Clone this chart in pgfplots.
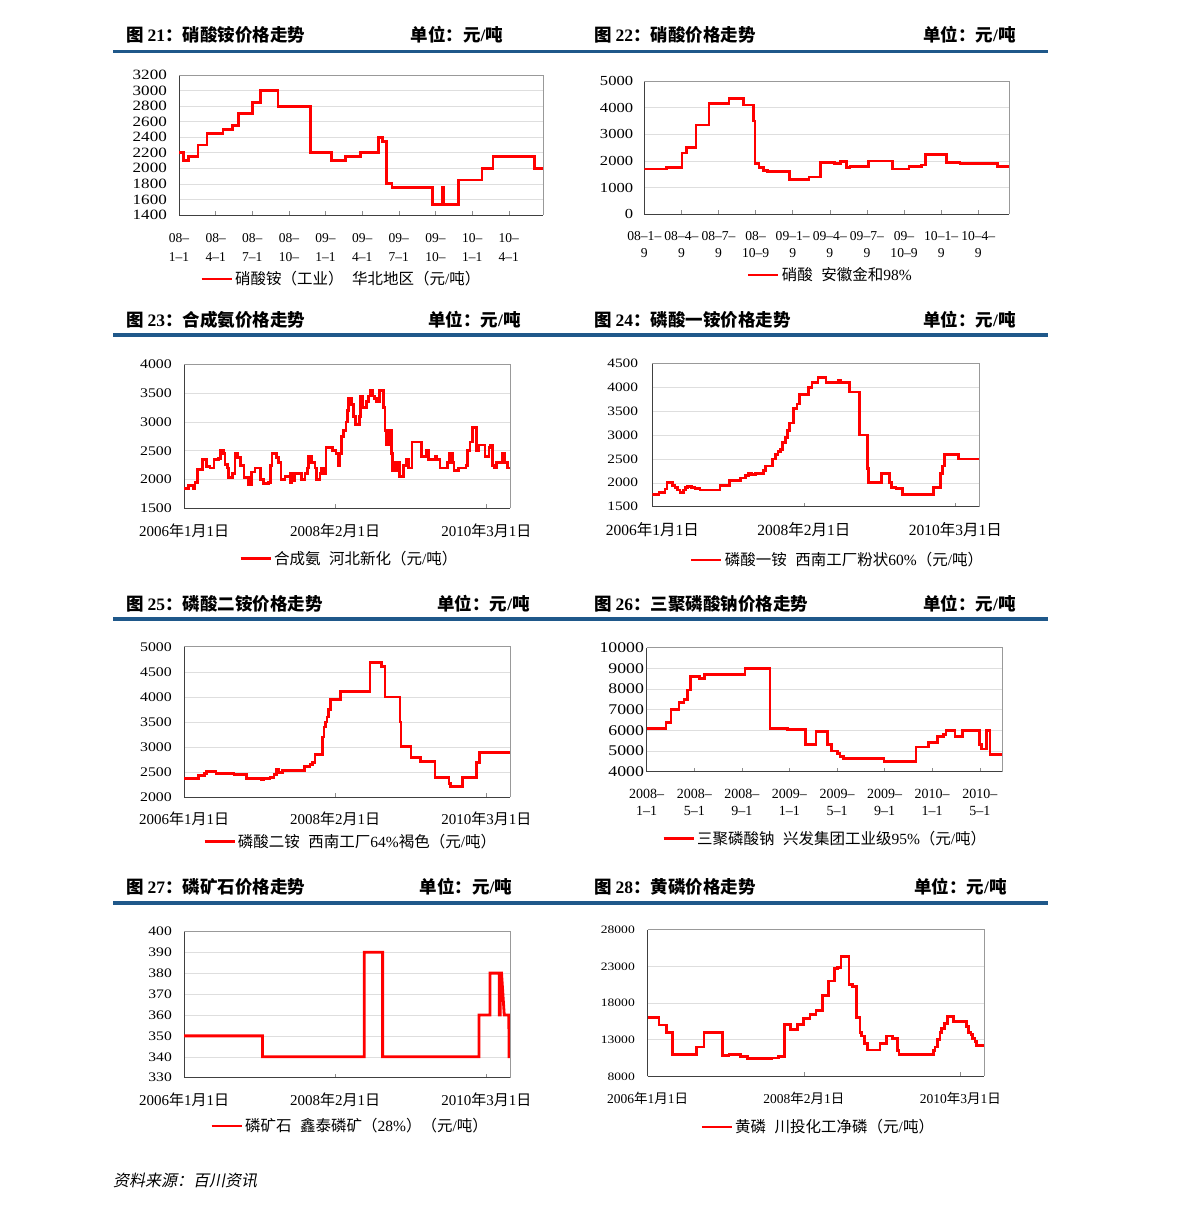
\documentclass[border=0pt]{standalone}
\usepackage{fontspec}
\setmainfont{Liberation Serif}
\newfontfamily\cjk{Noto Sans CJK SC}
\newfontfamily\cjkit[FakeSlant=0.2]{Noto Sans CJK SC}
\newfontfamily\tnum[FakeStretch=1.2]{Liberation Serif}
\usepackage{pgfplots}
\pgfplotsset{compat=1.18}
\definecolor{rulecol}{RGB}{31,88,138}
\definecolor{linered}{RGB}{255,0,0}
\newcommand\zh[1]{{\cjk #1}}
\newcommand\wsp{\hspace{0.55em}}
\newcommand\legfont{\fontsize{15.5}{18}\selectfont}
\newcommand\ttl[4]{\node[anchor=base west,inner sep=0pt] at (#1pt,-#2pt) {\fontsize{17.5}{20}\selectfont\bfseries\zh{图 }#3\zh{：#4}};}
\newcommand\unit[2]{\node[anchor=base east,inner sep=0pt] at (#1pt,-#2pt) {\fontsize{17.5}{20}\selectfont\bfseries\zh{单位：元}/\zh{吨}};}
\newcommand\dlab[3]{#1\zh{年}#2\zh{月}#3\zh{日}}

\pgfplotsset{
  chart/.style={
    scale only axis, anchor=south west,
    axis x line*=bottom, axis y line*=left,
    axis line style={-, black!75, line width=0.8pt},
    ymajorgrids, grid style={black!13, line width=0.6pt},
    tick align=inside, major tick length=4pt,
    xtick style={black!45, line width=0.6pt},
    ytick style={draw=none},
    yticklabel style={anchor=east, inner sep=0pt},
    xticklabel style={anchor=base, inner sep=0pt, align=center},
    /pgf/number format/assume math mode=true,
    /pgf/number format/1000 sep={},
    scaled ticks=false,
    extra description/.code={\draw[black!40, line width=0.8pt] (rel axis cs:0,1) -- (rel axis cs:1,1) -- (rel axis cs:1,0);},
    legend image code/.code={\draw[linered, line width=2.8pt] (0pt,0pt) -- (30pt,0pt);},
    legend style={draw=none, fill=none, inner sep=0pt, anchor=west, font=\legfont},
    legend cell align=left,
  },
  yfs/.style={yticklabel style={font=\tnum\fontsize{#1}{#1}\selectfont}},
  xfs/.style 2 args={xticklabel style={font=\fontsize{#1}{#2}\selectfont}},
  dline/.style={linered, line width=2.8pt, const plot},
  datex/.style={xmin=0, xmax=53.9, xtick={0,25,50},
    xticklabels={\dlab{2006}{1}{1},\dlab{2008}{2}{1},\dlab{2010}{3}{1}}},
}

\begin{document}
\begin{tikzpicture}
\path[use as bounding box] (0,0) rectangle (1191pt,-1209pt);

% ---------- header rules and titles
\foreach \yy in {51.5,335,619,903}{\draw[rulecol, line width=3.2pt] (113pt,-\yy pt) -- (1048pt,-\yy pt);}
\ttl{126}{41.5}{21}{硝酸铵价格走势}\unit{503.3}{41.5}
\ttl{594}{41.5}{22}{硝酸价格走势}\unit{1015.7}{41.5}
\ttl{126}{326}{23}{合成氨价格走势}\unit{520.7}{326}
\ttl{594}{326}{24}{磷酸一铵价格走势}\unit{1015.7}{326}
\ttl{126}{610.5}{25}{磷酸二铵价格走势}\unit{530}{610.5}
\ttl{594}{610.5}{26}{三聚磷酸钠价格走势}\unit{1015.7}{610.5}
\ttl{126}{893}{27}{磷矿石价格走势}\unit{512.3}{893}
\ttl{594}{893}{28}{黄磷价格走势}\unit{1006.7}{893}

% ---------- 21
\begin{axis}[chart, at={(179pt,-215pt)}, width=364pt, height=140pt,
  xmin=0, xmax=29.8, ymin=1400, ymax=3200, ytick={1400,1600,...,3200},
  xtick={0,3,...,27},
  xticklabels={{08–\\1–1},{08–\\4–1},{08–\\7–1},{08–\\10–},{09–\\1–1},{09–\\4–1},{09–\\7–1},{09–\\10–},{10–\\1–1},{10–\\4–1}},
  yfs=14.2, xfs={13.5}{19}, xticklabel style={yshift=-46.5pt},
  yticklabel style={xshift=-12pt},
  legend style={at={(0.0577,-0.457)}}]
\addplot[dline] coordinates {(0,2200)(0.4,2100)(0.8,2150)(1.55,2300)(2.3,2450)(3.6,2500)(4.4,2550)(4.9,2700)(6.0,2850)(6.7,3000)(8.1,2800)(10.74,2200)(12.46,2100)(13.64,2150)(14.83,2200)(16.36,2400)(16.64,2350)(16.96,1800)(17.43,1750)(20.78,1540)(21.6,1750)(21.7,1540)(22.9,1850)(24.8,2000)(25.7,2150)(29.1,2000)(29.8,2000)};
\addlegendentry{\zh{硝酸铵（工业）}\wsp\zh{华北地区（元}/\zh{吨）}}
\end{axis}

% ---------- 22
\begin{axis}[chart, at={(644.3pt,-214.3pt)}, width=365pt, height=133.3pt,
  xmin=0, xmax=29.51, ymin=0, ymax=5000, ytick={0,1000,...,5000},
  xtick={0,3,...,27},
  xticklabels={{08–1–\\9},{08–4–\\9},{08–7–\\9},{08–\\10–9},{09–1–\\9},{09–4–\\9},{09–7–\\9},{09–\\10–9},{10–1–\\9},{10–4–\\9}},
  yfs=13.8, xfs={13.6}{17.3}, xticklabel style={yshift=-43.5pt},
  yticklabel style={xshift=-11pt},
  legend style={at={(0.281,-0.455)}}]
\addplot[dline] coordinates {(0,1700)(1.8,1750)(3.05,2300)(3.42,2500)(4.18,3350)(5.23,4150)(6.85,4350)(8.0,4100)(8.81,3500)(8.95,1900)(9.27,1750)(9.62,1650)(9.97,1600)(11.73,1300)(13.32,1400)(14.26,1950)(15.36,1900)(15.88,1980)(16.33,1750)(16.63,1800)(18.11,2000)(20.05,1700)(21.4,1800)(22.43,1850)(22.75,2250)(24.45,1950)(25.53,1900)(28.54,1800)(29.51,1800)};
\addlegendentry{\zh{硝酸}\wsp\zh{安徽金和}98\%}
\end{axis}

% ---------- 23
\begin{axis}[chart, datex, at={(184pt,-508.3pt)}, width=326pt, height=144pt,
  ymin=1500, ymax=4000, ytick={1500,2000,...,4000},
  yfs=13.2, xfs={15}{18}, xticklabel style={yshift=-28.5pt},
  yticklabel style={xshift=-12pt},
  legend style={at={(0.169,-0.347)}}]
\addplot[dline] coordinates {(0,1840)(0.72,1900)(1.54,1850)(1.82,1950)(2.20,2180)(3.09,2350)(3.75,2220)(4.30,2200)(4.96,2350)(5.67,2370)(6.06,2500)(6.50,2450)(6.78,2260)(7.16,2200)(7.33,2040)(8.04,2100)(8.43,2450)(8.82,2380)(9.37,2240)(9.92,2040)(10.63,1920)(11.18,2130)(11.74,2200)(12.67,2000)(13.11,1930)(13.94,1950)(14.33,2250)(14.55,2450)(15.32,2380)(15.59,2300)(16.03,2000)(16.69,2050)(17.52,2100)(17.63,1950)(17.80,2100)(18.07,1980)(18.35,2100)(19.45,2000)(20.0,2100)(20.39,2200)(20.55,2400)(21.10,2300)(21.65,2200)(21.93,2000)(22.48,2100)(22.76,2200)(23.03,2100)(23.47,2550)(24.57,2500)(25.12,2450)(25.51,2250)(25.79,2450)(26.06,2750)(26.34,2850)(26.78,3000)(27.0,3200)(27.22,3400)(27.66,3300)(27.99,3100)(28.32,2950)(28.98,3100)(29.2,3450)(29.53,3250)(30.19,3350)(30.52,3450)(30.85,3550)(31.18,3450)(31.52,3400)(31.85,3350)(32.29,3550)(32.95,3250)(33.22,2850)(33.5,2600)(33.72,2850)(33.94,2600)(34.16,2850)(34.33,2450)(34.49,2150)(34.71,2300)(34.93,2150)(35.15,2300)(35.59,2050)(36.25,2250)(36.69,2350)(37.08,2200)(37.69,2650)(39.28,2400)(40.0,2500)(40.39,2350)(41.49,2400)(41.76,2350)(42.31,2200)(43.53,2300)(43.86,2450)(44.41,2300)(44.63,2150)(45.34,2200)(46.61,2250)(46.83,2500)(47.27,2650)(47.71,2900)(48.37,2500)(48.65,2600)(49.75,2400)(50.41,2550)(50.74,2600)(51.02,2250)(51.29,2200)(51.68,2300)(52.62,2450)(53.06,2300)(53.50,2200)(53.9,2200)};
\addlegendentry{\zh{合成氨}\wsp\zh{河北新化（元}/\zh{吨）}}
\end{axis}

% ---------- 24
\begin{axis}[chart, datex, at={(652.3pt,-506.7pt)}, width=326.7pt, height=143.4pt,
  ymin=1500, ymax=4500, ytick={1500,2000,...,4500},
  yfs=12.8, xfs={15.5}{18}, xticklabel style={yshift=-28.3pt},
  yticklabel style={xshift=-14pt},
  legend style={at={(0.115,-0.372)}}]
\addplot[dline] coordinates {(0,1750)(1.10,1800)(2.09,1870)(2.42,2000)(3.31,1950)(3.75,1900)(4.19,1850)(4.57,1800)(5.18,1850)(5.51,1900)(5.84,1930)(6.50,1900)(7.05,1880)(7.88,1850)(11.18,1950)(12.67,2050)(14.49,2100)(15.32,2150)(15.87,2200)(16.42,2180)(16.97,2200)(18.35,2250)(18.73,2350)(19.83,2500)(20.28,2600)(20.72,2650)(21.10,2700)(21.54,2850)(21.93,2950)(22.26,3100)(22.64,3250)(23.31,3550)(23.86,3650)(24.24,3850)(25.79,4000)(26.34,4100)(27.33,4200)(28.65,4100)(30.63,4150)(31.02,4100)(32.56,3900)(34.16,3000)(35.54,2300)(35.70,2000)(37.80,2200)(39.12,2000)(39.45,1900)(40.22,1880)(41.32,1750)(46.34,1900)(47.55,2200)(47.93,2350)(48.26,2600)(50.47,2500)(53.9,2500)};
\addlegendentry{\zh{磷酸一铵}\wsp\zh{西南工厂粉状}60\%\zh{（元}/\zh{吨）}}
\end{axis}

% ---------- 25
\begin{axis}[chart, datex, at={(184pt,-797.3pt)}, width=326pt, height=150.6pt,
  ymin=2000, ymax=5000, ytick={2000,2500,...,5000},
  yfs=13.2, xfs={15}{18}, xticklabel style={yshift=-27pt},
  yticklabel style={xshift=-12pt},
  legend style={at={(0.058,-0.295)}}]
\addplot[dline] coordinates {(0,2380)(2.37,2430)(3.36,2470)(3.75,2520)(5.29,2480)(8.26,2460)(10.36,2380)(12.84,2350)(13.22,2380)(14.21,2400)(14.88,2450)(15.32,2550)(15.59,2500)(16.31,2540)(19.89,2620)(20.83,2650)(21.27,2700)(21.65,2850)(22.87,3200)(23.14,3400)(23.42,3500)(23.64,3600)(23.91,3750)(24.19,3950)(25.90,4100)(30.74,4680)(32.67,4600)(33.22,4000)(35.70,3500)(35.87,3020)(37.52,2800)(39.12,2720)(41.49,2400)(43.80,2270)(44.08,2220)(46.06,2400)(48.37,2700)(48.82,2900)(53.9,2900)};
\addlegendentry{\zh{磷酸二铵}\wsp\zh{西南工厂}64\%\zh{褐色（元}/\zh{吨）}}
\end{axis}

% ---------- 26
\begin{axis}[chart, at={(646.7pt,-771.7pt)}, width=355.6pt, height=124pt,
  xmin=0, xmax=29.89, ymin=4000, ymax=10000, ytick={4000,5000,...,10000},
  xtick={0,4,...,28},
  xticklabels={{2008–\\1–1},{2008–\\5–1},{2008–\\9–1},{2009–\\1–1},{2009–\\5–1},{2009–\\9–1},{2010–\\1–1},{2010–\\5–1}},
  yfs=14.8, xfs={14}{17.5}, xticklabel style={yshift=-44pt},
  yticklabel style={xshift=-2.5pt},
  legend style={at={(0.043,-0.537)}}]
\addplot[dline] coordinates {(0,6100)(1.62,6400)(2.04,7000)(2.72,7350)(3.14,7500)(3.42,7950)(3.67,8600)(4.43,8500)(4.85,8700)(8.26,9000)(10.36,6100)(11.82,6050)(13.36,5300)(14.23,5950)(15.18,5300)(15.55,5000)(16.02,4900)(16.25,4750)(16.53,4650)(19.94,4500)(22.63,5200)(23.67,5400)(24.45,5700)(24.93,5800)(25.15,6000)(25.91,5700)(26.55,6000)(27.96,5300)(28.15,5100)(28.57,6000)(28.85,4850)(29.89,4850)};
\addlegendentry{\zh{三聚磷酸钠}\wsp\zh{兴发集团工业级}95\%\zh{（元}/\zh{吨）}}
\end{axis}

% ---------- 27
\begin{axis}[chart, datex, at={(184pt,-1077.7pt)}, width=326pt, height=146.4pt,
  ymin=330, ymax=400, ytick={330,340,...,400},
  yfs=13, xfs={15}{18}, xticklabel style={yshift=-28pt},
  yticklabel style={xshift=-12pt},
  legend style={at={(0.08,-0.33)}}]
\addplot[linered, line width=2.8pt] coordinates {(0,350)(12.98,350)(12.98,340)(29.81,340)(29.81,390)(32.84,390)(32.84,340)(48.76,340)(48.76,360)(50.58,360)(50.58,380)(52.12,380)(52.12,360)(52.3,360)(52.3,380)(52.5,380)(52.95,360)(53.7,360)(53.75,340)(53.9,340)};
\addlegendentry{\zh{磷矿石}\wsp\zh{鑫泰磷矿（}28\%\zh{）（元}/\zh{吨）}}
\end{axis}

% ---------- 28
\begin{axis}[chart, datex, xmax=53.8, at={(647.7pt,-1076.3pt)}, width=336.3pt, height=146.6pt,
  ymin=8000, ymax=28000, ytick={8000,13000,...,28000},
  yfs=11.3, xfs={13.5}{18}, xticklabel style={yshift=-27pt},
  yticklabel style={xshift=-12.7pt},
  legend style={at={(0.156,-0.346)}}]
\addplot[dline] coordinates {(0,16000)(1.81,15000)(3.04,14000)(3.95,11000)(7.84,12000)(9.01,14000)(12.0,10800)(13.01,11000)(14.88,10700)(15.95,10400)(19.84,10500)(20.91,10700)(21.87,15100)(22.88,14400)(23.95,15100)(24.91,15900)(25.97,16400)(26.93,17000)(27.95,19000)(28.91,21000)(29.87,22700)(30.35,22800)(30.93,24400)(32.21,20500)(32.80,20200)(33.44,16000)(33.97,14000)(34.24,13500)(34.67,12500)(35.20,11600)(37.17,12500)(38.24,13500)(39.15,13200)(40.0,11500)(40.21,11000)(45.71,11500)(45.97,12000)(46.40,13000)(46.77,14000)(47.04,14500)(47.47,15200)(48.0,16200)(48.91,15500)(51.04,14800)(51.31,14000)(51.73,13700)(52.0,13200)(52.37,12800)(52.64,12200)(53.8,12200)};
\addlegendentry{\zh{黄磷}\wsp\zh{川投化工净磷（元}/\zh{吨）}}
\end{axis}

% ---------- footer
\node[anchor=base west, inner sep=0pt] at (113pt,-1186pt) {\fontsize{16}{18}\selectfont\cjkit 资料来源：百川资讯};
\end{tikzpicture}
\end{document}
